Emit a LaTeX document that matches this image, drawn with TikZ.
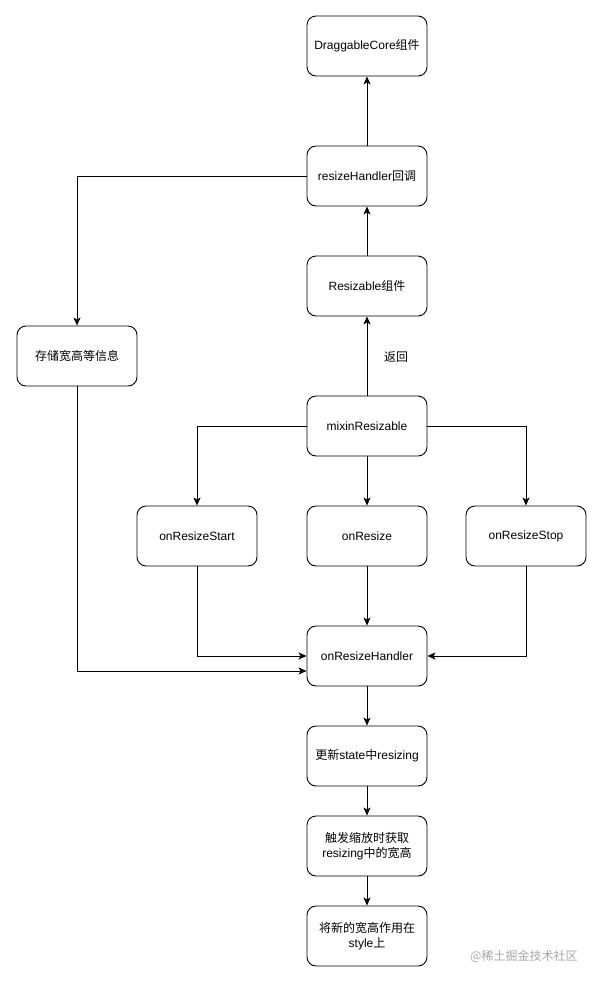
\documentclass[tikz,border=0pt]{standalone}
\usepackage{fontspec}
\setmainfont{Liberation Sans}
\newfontfamily\cjk{Noto Sans CJK SC}
\usetikzlibrary{arrows.meta,positioning,calc}
\tikzset{
  box/.style={draw, line width=0.9pt, rounded corners=9pt, minimum width=120pt, minimum height=60pt, inner sep=1pt, align=center, font=\fontsize{12pt}{15pt}\selectfont},
  arr/.style={draw, line width=0.9pt, -{Stealth[length=8pt,width=7pt,inset=2pt]}},
}
\begin{document}
\begin{tikzpicture}[x=1pt,y=-1pt]
\useasboundingbox (0,0) rectangle (603,983);
\node[box] (drag) at (367,46) {Draggable{}Core{\cjk 组件}};
\node[box] (rh) at (367,176) {resizeHandler{\cjk 回调}};
\node[box] (res) at (367,286) {Resizable{\cjk 组件}};
\node[box] (store) at (77,356) {{\cjk 存储宽高等信息}};
\node[box] (mix) at (367,426) {mixinResizable};
\node[box] (start) at (197,536) {onResizeStart};
\node[box] (onr) at (367,536) {onResize};
\node[box] (stop) at (526,536) {onResizeStop};
\node[box] (hand) at (367,656) {onResizeHandler};
\node[box] (upd) at (367,756) {{\cjk 更新}state{\cjk 中}resizing};
\node[box] (trig) at (367,846) {{\cjk 触发缩放时获取}\\resizing{\cjk 中的宽高}};
\node[box] (apply) at (367,936) {{\cjk 将新的宽高作用在}\\style{\cjk 上}};
\node[font=\fontsize{12pt}{15pt}\selectfont\cjk] (lbl) at (396,357) {返回};
\node[font=\fontsize{12pt}{15pt}\selectfont\cjk, text=black!35, anchor=west, inner sep=0] (wm) at (470,956) {@稀土掘金技术社区};

\draw[arr] (rh) -- (drag);
\draw[arr] (res) -- (rh);
\draw[arr] (mix) -- (res);
\draw[arr] (rh.west) -| (store.north);
\draw[arr] (mix.west) -| (start.north);
\draw[arr] (mix) -- (onr);
\draw[arr] (mix.east) -| (stop.north);
\draw[arr] (start.south) |- (hand.west);
\draw[arr] (onr) -- (hand);
\draw[arr] (stop.south) |- (hand.east);
\draw[arr] (store.south) |- ([yshift=-15pt]hand.west);
\draw[arr] (hand) -- (upd);
\draw[arr] (upd) -- (trig);
\draw[arr] (trig) -- (apply);
\end{tikzpicture}
\end{document}
